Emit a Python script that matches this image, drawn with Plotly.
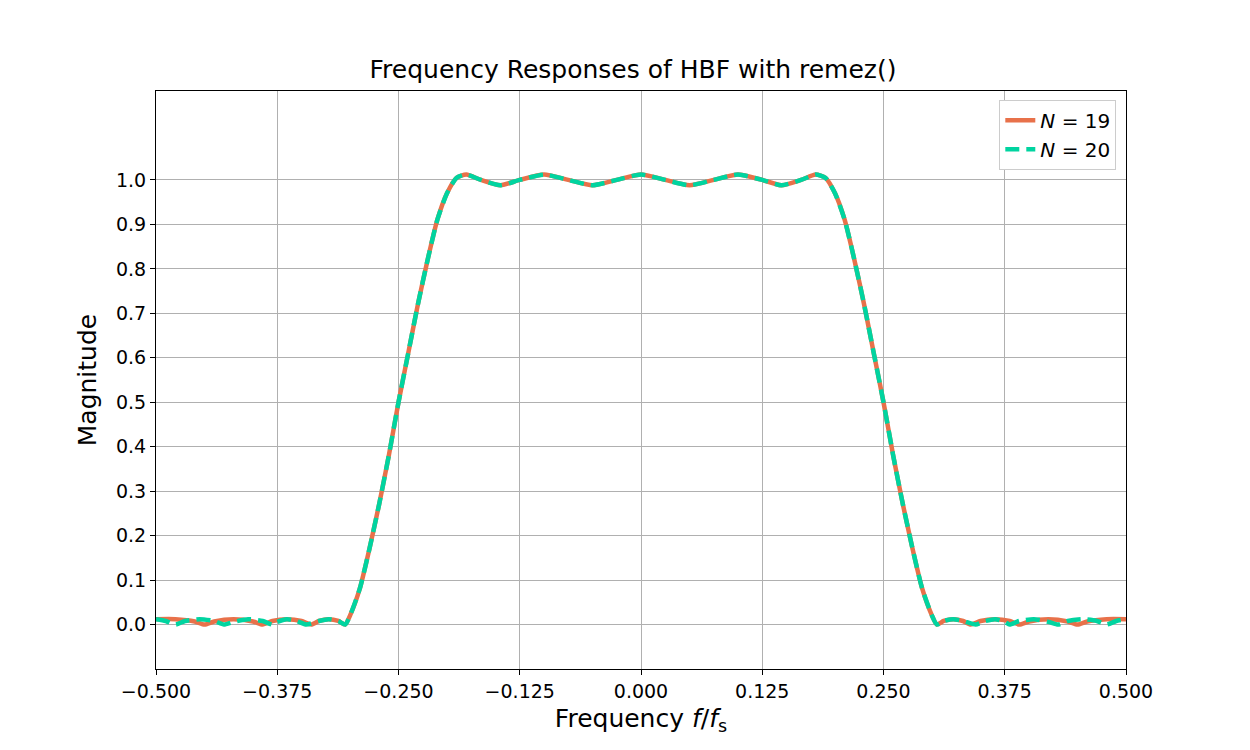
import plotly.graph_objects as go

# right half (f >= 0) of each response; the curves are even
f_pass = [0.0, 0.025, 0.05, 0.075, 0.1, 0.125, 0.145, 0.165, 0.18, 0.19, 0.2, 0.21, 0.22, 0.23,
          0.24, 0.25, 0.26, 0.27, 0.28, 0.29, 0.3, 0.305]
mag_pass = [1.012, 1.0, 0.988, 1.0, 1.012, 1.0, 0.988, 1.0, 1.012, 1.005, 0.97, 0.91, 0.82, 0.72,
            0.61, 0.5, 0.38, 0.27, 0.17, 0.08, 0.02, 0.0]

f_stop19 = [0.312, 0.322, 0.332, 0.34, 0.35, 0.365, 0.38, 0.39, 0.4, 0.42, 0.44, 0.45, 0.46, 0.48, 0.5]
mag_stop19 = [0.008, 0.012, 0.008, 0.0, 0.008, 0.012, 0.008, 0.0, 0.007, 0.012, 0.007, 0.0, 0.007, 0.012, 0.012]

f_stop20 = [0.312, 0.322, 0.332, 0.345, 0.355, 0.365, 0.375, 0.38, 0.39, 0.405, 0.42, 0.43, 0.44, 0.455, 0.47, 0.48, 0.49, 0.5]
mag_stop20 = [0.008, 0.012, 0.008, 0.0, 0.008, 0.012, 0.006, 0.0, 0.008, 0.012, 0.006, 0.0, 0.008, 0.012, 0.008, 0.0, 0.008, 0.012]

names = ["<i>N</i> = 19", "<i>N</i> = 20"]
colors = ["#E8714A", "#00D4A0"]


def full(fr, mr):
    x = [-v for v in fr[::-1]] + fr[1:]
    y = mr[::-1] + mr[1:]
    return x, y


fig = go.Figure()
for i, (fs, ms) in enumerate([(f_stop19, mag_stop19), (f_stop20, mag_stop20)]):
    x, y = full(f_pass + fs, mag_pass + ms)
    fig.add_trace(go.Scatter(
        x=x, y=y, mode="lines", name=names[i],
        line=dict(color=colors[i], width=4.5, dash="solid" if i == 0 else "14px,7px",
                  shape="spline", smoothing=0.6),
    ))

ax = dict(showgrid=True, gridcolor="#b0b0b0", gridwidth=1, showline=True, linecolor="black",
          linewidth=1, mirror=True, ticks="outside", ticklen=5, tickcolor="black",
          zeroline=False, tickfont=dict(size=19, color="black"))

fig.update_layout(
    width=1250, height=750,
    paper_bgcolor="white", plot_bgcolor="white",
    font=dict(family="DejaVu Sans", color="black"),
    title=dict(text="Frequency Responses of HBF with remez()", x=0.5, xanchor="center",
               y=0.93, font=dict(size=25)),
    margin=dict(l=148, r=132, t=83, b=89),
    xaxis=dict(ax, range=[-0.5, 0.5], tickvals=[-0.5 + 0.125 * k for k in range(9)],
               tickformat=".3f",
               title=dict(text="Frequency <i>f</i>/<i>f</i><sub>s</sub>", font=dict(size=25), standoff=8)),
    yaxis=dict(ax, range=[-0.1, 1.2], tickvals=[k / 10 for k in range(11)], tickformat=".1f",
               title=dict(text="Magnitude", font=dict(size=25), standoff=12)),
    legend=dict(x=0.99, y=0.985, xanchor="right", yanchor="top", bgcolor="white",
                bordercolor="#cccccc", borderwidth=1, font=dict(size=20)),
)

fig.write_html("out.html")
